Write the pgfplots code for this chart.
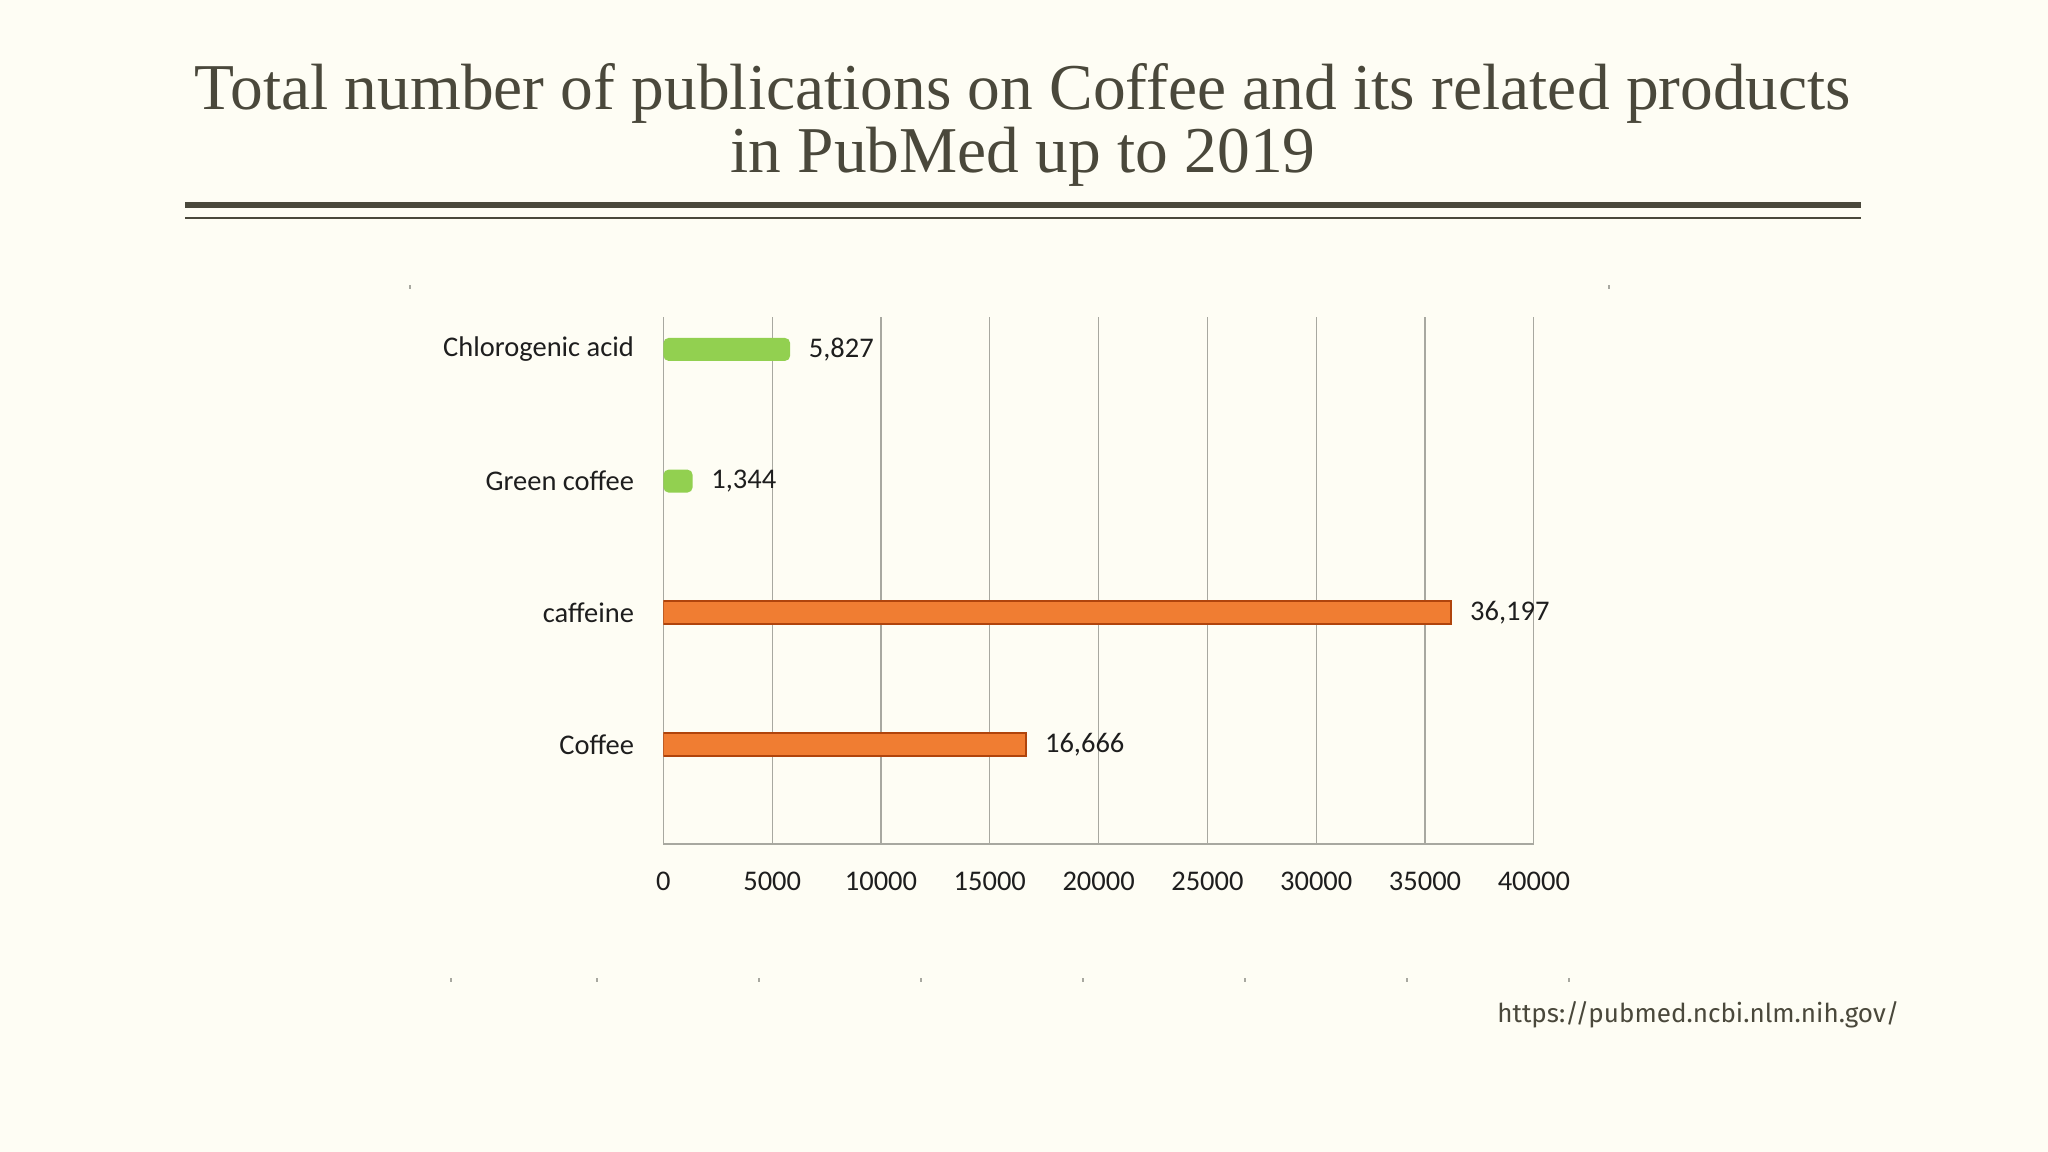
\documentclass[border=0pt]{standalone}
\usepackage{pgfplots}
\pgfplotsset{compat=1.18}
\usepackage{fontspec}
\setmainfont{Liberation Serif}
\newfontfamily\carlito{Carlito}
\newfontfamily\fira{Fira Sans}
\definecolor{bg}{HTML}{FEFDF4}
\definecolor{ink}{HTML}{4A483B}
\definecolor{grn}{HTML}{92D050}
\definecolor{org}{HTML}{F07D32}
\definecolor{orgd}{HTML}{B0440C}
\definecolor{grd}{HTML}{A8A8A0}
\definecolor{lbl}{HTML}{1E1E1E}
\begin{document}
\begin{tikzpicture}[x=0.01cm,y=0.01cm]
\useasboundingbox (0,0) rectangle (2048,1152);
\fill[bg] (0,0) rectangle (2048,1152);
% title
\node[anchor=base, text=ink, font=\fontsize{18.6}{22}\selectfont, inner sep=0] at (1023,1042) {Total number of publications on Coffee and its related products};
\node[anchor=base, text=ink, font=\fontsize{18.6}{22}\selectfont, inner sep=0] at (1023,979) {in PubMed up to 2019};
\draw[ink, line width=0.065cm] (185,947) -- (1861,947);
\draw[ink, line width=0.027cm] (185,934) -- (1861,934);
% decorative marks
\foreach \xx in {410,1609} {\draw[grd, line width=0.012cm] (\xx,863) -- (\xx,867);}
\foreach \xx in {451,597,759,921,1083,1245,1407,1569} {\draw[grd, line width=0.012cm] (\xx,170) -- (\xx,174);}
% source
\node[anchor=base east, text=ink, font=\fira\fontsize{7.4}{9}\selectfont, inner sep=0] at (1900,129) {https://pubmed.ncbi.nlm.nih.gov/};
\begin{axis}[
  at={(6.63cm,3.08cm)}, anchor=south west,
  scale only axis, width=8.7cm, height=5.27cm,
  xbar, bar width=0.23cm, bar shift=0pt,
  xmin=0, xmax=40000, ymin=-0.755, ymax=3.25,
  ytick={0,1,2,3},
  yticklabels={Coffee,caffeine,Green coffee,Chlorogenic acid},
  xtick={0,5000,...,40000},
  scaled x ticks=false,
  xticklabel style={/pgf/number format/1000 sep={}, yshift=-0.16cm},
  yticklabel style={xshift=-0.17cm},
  ticklabel style={font=\carlito\fontsize{8.1}{10}\selectfont, text=lbl},
  /pgf/number format/assume math mode=true,
  xmajorgrids, grid style={grd, line width=0.012cm},
  axis x line*=bottom, axis y line*=left, separate axis lines,
  y axis line style={draw=none},
  x axis line style={grd, line width=0.015cm},
  major tick length=0pt,
  tick style={draw=none},
  point meta=x,
  nodes near coords={\pgfmathprintnumber[1000 sep={,}]{\pgfplotspointmeta}},
  nodes near coords align={horizontal},
  every node near coord/.append style={font=\carlito\fontsize{8.1}{10}\selectfont, text=lbl, anchor=west, inner sep=0pt, xshift=0.18cm},
]
\addplot[fill=grn, draw=none, rounded corners=1.5pt] coordinates {(5827,3) (1344,2)};
\addplot[fill=org, draw=orgd, line width=0.02cm] coordinates {(36197,1) (16666,0)};
\end{axis}
\end{tikzpicture}
\end{document}
